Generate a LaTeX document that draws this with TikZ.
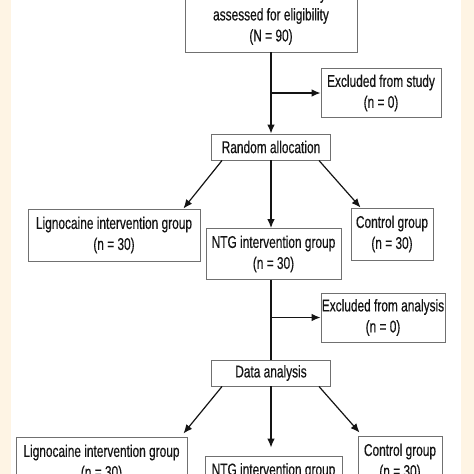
\documentclass[tikz,border=0pt]{standalone}
\usepackage{fontspec}
\setmainfont{Liberation Sans}[FakeStretch=0.7, FakeBold=0.35]
\usetikzlibrary{arrows.meta, calc}
\definecolor{Cream}{RGB}{254, 244, 228}
\definecolor{BoxGray}{RGB}{112, 112, 112}
\definecolor{InkBlack}{RGB}{20, 20, 20}

\begin{document}
\begin{tikzpicture}[x=1pt, y=-1pt,
    box/.style={rectangle, draw=BoxGray, fill=white, align=center, font=\fontsize{17}{21}\selectfont, text=InkBlack, inner sep=0pt, line width=0.9pt},
    arrow/.style={-{Latex[length=9pt, width=7.5pt]}, draw=InkBlack, line width=1.2pt},
    link/.style={draw=InkBlack, line width=1.2pt}
]
\path[use as bounding box] (0,0) rectangle (474,474);
\clip (0,0) rectangle (474,474);
\fill[Cream] (0,0) rectangle (11,474);
\fill[Cream] (461,0) rectangle (474,474);

\node[box, minimum width=172pt, minimum height=72pt] (enrol) at (271,16) {Patients enrolled in study and\\assessed for eligibility\\(N = 90)};
\node[box, minimum width=120pt, minimum height=49pt] (excl1) at (381,93) {Excluded from study\\(n = 0)};
\node[box, minimum width=119pt, minimum height=26pt] (alloc) at (271,147) {Random allocation};
\node[box, minimum width=172pt, minimum height=52pt] (ligno1) at (114,235) {Lignocaine intervention group\\(n = 30)};
\node[box, minimum width=135pt, minimum height=51pt] (ntg1) at (273.5,254) {NTG intervention group\\(n = 30)};
\node[box, minimum width=82pt, minimum height=52pt] (ctrl1) at (392,234) {Control group\\(n = 30)};
\node[box, minimum width=124pt, minimum height=49pt] (excl2) at (383,317.5) {Excluded from analysis\\(n = 0)};
\node[box, minimum width=119pt, minimum height=26pt] (data) at (271,373) {Data analysis};
\node[box, minimum width=171pt, minimum height=52pt] (ligno2) at (101.5,463) {Lignocaine intervention group\\(n = 30)};
\node[box, minimum width=137pt, minimum height=51pt] (ntg2) at (273.5,481.5) {NTG intervention group\\(n = 30)};
\node[box, minimum width=84pt, minimum height=52pt] (ctrl2) at (400,462) {Control group\\(n = 30)};

\draw[arrow] (enrol.south) -- (alloc.north);
\draw[arrow] (enrol.south |- excl1.west) -- (excl1.west);
\draw[arrow] ($(alloc.south west)+(11,0)$) -- ($(ligno1.north east)+(-17,0)$);
\draw[arrow] (alloc.south) -- (alloc.south |- ntg1.north);
\draw[arrow] ($(alloc.south east)+(-12,0)$) -- ($(ctrl1.north west)+(10,0)$);

\draw[link] (alloc.south |- ntg1.south) -- (data.north);
\draw[arrow] (data.north |- excl2.west) -- (excl2.west);
\draw[arrow] ($(data.south west)+(11,0)$) -- ($(ligno2.north east)+(-4,-3)$);
\draw[arrow, shorten >=8pt] (data.south) -- (data.south |- ntg2.north);
\draw[arrow] ($(data.south east)+(-12,0)$) -- ($(ctrl2.north west)+(2,-3)$);
\end{tikzpicture}
\end{document}
